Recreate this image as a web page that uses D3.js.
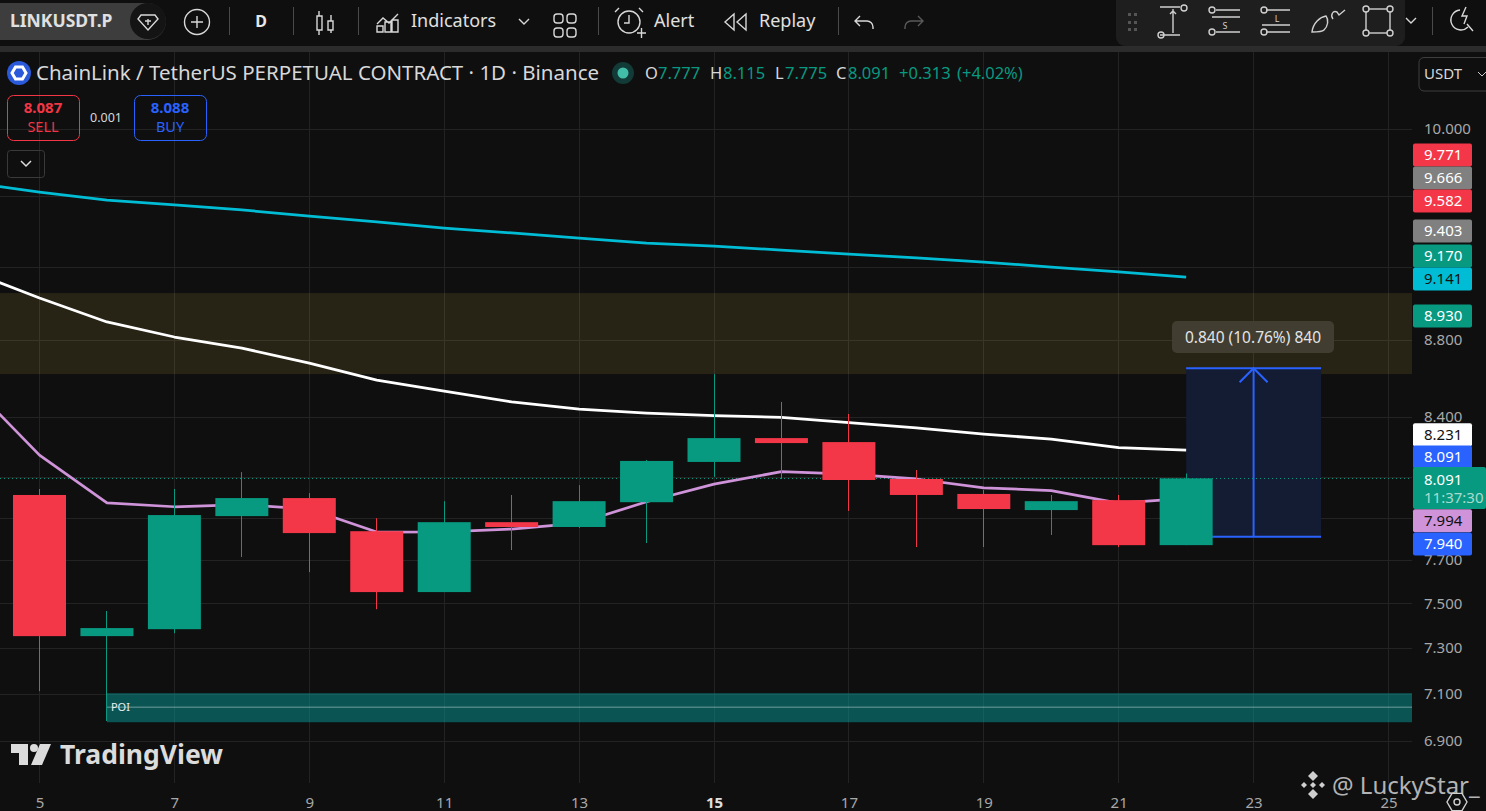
<!DOCTYPE html>
<html>
<head>
<meta charset="utf-8">
<script src="https://cdnjs.cloudflare.com/ajax/libs/d3/7.8.5/d3.min.js"></script>
<style>
html,body{margin:0;padding:0;background:#0f0f0f;overflow:hidden}
text{font-family:"Noto Sans",sans-serif}
</style>
</head>
<body>
<div id="chart"></div>
<script>
// daily candles
var days   = [5,6,7,8,9,10,11,12,13,14,15,16,17,18,19,20,21,22];
var opens  = [8.010,7.353,7.384,7.908,7.995,7.836,7.552,7.879,7.856,7.975,8.172,8.291,8.271,8.088,8.015,7.937,7.985,7.770];
var highs  = [8.039,7.466,8.039,8.122,8.019,7.898,7.980,8.010,8.058,8.182,8.619,8.475,8.413,8.132,8.034,8.010,8.010,8.115];
var lows   = [7.112,6.984,7.366,7.714,7.644,7.474,7.552,7.747,7.851,7.780,8.098,8.088,7.933,7.761,7.761,7.818,7.761,7.770];
var closes = [7.353,7.389,7.913,7.995,7.827,7.552,7.879,7.856,7.980,8.177,8.291,8.266,8.083,8.010,7.942,7.980,7.770,8.091];

// moving averages, first value is day 4
var maDays   = [4,5,6,7,8,9,10,11,12,13,14,15,16,17,18,19,20,21,22];
var maCyan   = [9.678,9.625,9.578,9.550,9.521,9.486,9.452,9.417,9.389,9.360,9.332,9.315,9.292,9.270,9.248,9.225,9.197,9.170,9.141];
var maWhite  = [9.170,9.026,8.896,8.815,8.756,8.677,8.588,8.531,8.475,8.438,8.418,8.405,8.396,8.369,8.342,8.311,8.286,8.243,8.231];
var maPurple = [8.557,8.206,7.972,7.953,7.963,7.942,7.832,7.833,7.846,7.875,7.977,8.063,8.124,8.112,8.088,8.045,8.031,7.971,7.994];

var gridPrices = [10,9.6,9.2,8.8,8.4,8.1,7.9,7.7,7.5,7.3,7.1,6.9];
var priceTicks = [10,8.8,8.4,7.7,7.5,7.3,7.1,6.9];
var dayTicks   = [5,7,9,11,13,15,17,19,21,23,25];

var lastPrice = 8.091;
var yellowZone = [9.053,8.619];
var poiZone = [7.103,6.979];
var poiMid = 7.043;
var poiStart = 6;
var measureDays = [22,24];
var measurePrices = [7.810,8.650];

var priceLabels = ["9.771","9.666","9.582","9.403","9.170","9.141","8.930","8.231","8.091","7.994","7.940"];

var W = 1486, H = 811, plotR = 1412;
var svg = d3.select("#chart").append("svg").attr("width",W).attr("height",H).style("display","block");
svg.append("rect").attr("width",W).attr("height",H).attr("fill","#0f0f0f");

var x = d3.scaleLinear().domain([5,25]).range([39.5,1388.5]);
var y = d3.scaleLog().domain([10,6.9]).range([129,741]);

var defs = svg.append("defs");
defs.append("clipPath").attr("id","plot").append("rect").attr("x",0).attr("y",52).attr("width",plotR).attr("height",731);

// grid
var gGrid = svg.append("g");
gGrid.selectAll(".h").data(gridPrices).enter().append("line")
  .attr("x1",0).attr("x2",plotR).attr("y1",function(d){return Math.round(y(d))+0.5}).attr("y2",function(d){return Math.round(y(d))+0.5})
  .attr("stroke","#232323");
gGrid.selectAll(".v").data(dayTicks).enter().append("line")
  .attr("y1",52).attr("y2",783).attr("x1",function(d){return Math.floor(x(d))+0.5}).attr("x2",function(d){return Math.floor(x(d))+0.5})
  .attr("stroke","#232323");

var plot = svg.append("g").attr("clip-path","url(#plot)");

// zones
plot.append("rect").attr("x",0).attr("width",plotR).attr("y",y(yellowZone[0])).attr("height",y(yellowZone[1])-y(yellowZone[0]))
  .attr("fill","#ffd54a").attr("fill-opacity",0.105);
plot.append("rect").attr("x",x(poiStart)).attr("width",plotR-x(poiStart)).attr("y",y(poiZone[0])).attr("height",y(poiZone[1])-y(poiZone[0]))
  .attr("fill","#089a9a").attr("fill-opacity",0.5);
plot.append("line").attr("x1",x(poiStart)).attr("x2",plotR).attr("y1",y(poiMid)).attr("y2",y(poiMid))
  .attr("stroke","#fff").attr("stroke-opacity",0.42);
plot.append("text").attr("x",x(poiStart)+4).attr("y",y(poiMid)+3.5).attr("fill","#eee").attr("font-size",11).text("POI");

// measure tool
var mx0 = x(measureDays[0]), mx1 = x(measureDays[1]), my0 = y(measurePrices[0]), my1 = y(measurePrices[1]), mc = x(23);
var gm = plot.append("g");
gm.append("rect").attr("x",mx0).attr("width",mx1-mx0).attr("y",my1).attr("height",my0-my1).attr("fill","#141c33");
gm.selectAll("line.e").data([my0,my1]).enter().append("line").attr("x1",mx0).attr("x2",mx1)
  .attr("y1",function(d){return d}).attr("y2",function(d){return d}).attr("stroke","#2962ff").attr("stroke-width",2);
gm.append("line").attr("x1",mc).attr("x2",mc).attr("y1",my0).attr("y2",my1).attr("stroke","#2962ff").attr("stroke-width",2);
gm.append("path").attr("d","M"+(mc-14)+","+(my1+14)+"L"+mc+","+my1+"L"+(mc+14)+","+(my1+14)).attr("fill","none").attr("stroke","#2962ff").attr("stroke-width",2);

// price line
plot.append("line").attr("x1",0).attr("x2",plotR).attr("y1",Math.round(y(lastPrice))+0.5).attr("y2",Math.round(y(lastPrice))+0.5)
  .attr("stroke","#089981").attr("stroke-dasharray","1 3");

// moving averages
var line = d3.line().x(function(d,i){return x(maDays[i])}).y(function(d){return y(d)});
[[maCyan,"#00bcd4"],[maWhite,"#ffffff"],[maPurple,"#ce93d8"]].forEach(function(s){
  plot.append("path").attr("d",line(s[0])).attr("fill","none").attr("stroke",s[1]).attr("stroke-width",2.75).attr("stroke-linejoin","round");
});

// candles
var bodyW = 53;
var col = function(i){return closes[i]>=opens[i] ? "#089981" : "#f23645"};
var gc = plot.append("g");
gc.selectAll(".w").data(days).enter().append("line")
  .attr("x1",function(d){return Math.floor(x(d))+0.5}).attr("x2",function(d){return Math.floor(x(d))+0.5})
  .attr("y1",function(d,i){return y(highs[i])}).attr("y2",function(d,i){return y(lows[i])})
  .attr("stroke",function(d,i){return col(i)});
gc.selectAll(".b").data(days).enter().append("rect")
  .attr("x",function(d){return x(d)-bodyW/2}).attr("width",bodyW)
  .attr("y",function(d,i){return y(Math.max(opens[i],closes[i]))})
  .attr("height",function(d,i){return Math.abs(y(opens[i])-y(closes[i]))})
  .attr("fill",function(d,i){return closes[i]>=opens[i] ? "#089981" : "#f43748"});

// measure label
svg.append("rect").attr("x",1172).attr("y",321).attr("width",162).attr("height",32).attr("rx",5).attr("fill","#413d30");
svg.append("text").attr("x",1253).attr("y",343).attr("text-anchor","middle").attr("fill","#e4e4e4").attr("font-size",15.5).text("0.840 (10.76%) 840");

// price axis
var yAxis = d3.axisRight(y).tickValues(priceTicks).tickSize(0).tickPadding(0).tickFormat(d3.format(".3f"));
var ga = svg.append("g").attr("transform","translate(1424,0)").call(yAxis);
ga.select(".domain").remove();
ga.selectAll("text").attr("font-family","Noto Sans").attr("font-size",15).attr("fill","#a8a8a8").attr("x",0);

// stacked price labels
var labelY = [155,178,201,231,256,279,316,434.7,457,520.7,544];
var labelBg = ["#f43748","#808080","#f43748","#808080","#089981","#00bcd4","#089981","#ffffff","#2962ff","#ce93d8","#2962ff"];
var labelFg = ["#fff","#fff","#fff","#fff","#fff","#111","#fff","#111","#fff","#111","#fff"];
var gl = svg.append("g");
gl.selectAll("rect").data(priceLabels).enter().append("rect")
  .attr("x",1413).attr("width",59).attr("height",23).attr("rx",2)
  .attr("y",function(d,i){return labelY[i]-11.5}).attr("fill",function(d,i){return labelBg[i]});
gl.selectAll("text").data(priceLabels).enter().append("text")
  .attr("x",1424).attr("y",function(d,i){return labelY[i]+5}).attr("font-size",15).attr("fill",function(d,i){return labelFg[i]}).text(function(d){return d});

// last price + countdown
svg.append("rect").attr("x",1413).attr("y",467).attr("width",73).attr("height",42).attr("rx",2).attr("fill","#089981");
svg.append("text").attr("x",1424).attr("y",485).attr("font-size",15).attr("fill","#fff").text(d3.format(".3f")(lastPrice));
svg.append("text").attr("x",1424).attr("y",503).attr("font-size",15).attr("fill","#a9dccf").text("11:37:30");

// time axis
var xAxis = d3.axisBottom(x).tickValues(dayTicks).tickSize(0).tickPadding(0).tickFormat(d3.format("d"));
var gx = svg.append("g").attr("transform","translate(0,790)").call(xAxis);
gx.select(".domain").remove();
gx.selectAll("text").attr("font-family","Noto Sans").attr("font-size",15).attr("dy",0).attr("y",18)
  .attr("fill",function(d){return d===15?"#e0e0e0":"#a8a8a8"}).attr("font-weight",function(d){return d===15?"bold":"normal"});

// legend row
svg.append("circle").attr("cx",19).attr("cy",73).attr("r",12).attr("fill","#2a5ada");
svg.append("path").attr("d",hex(19,73,7)).attr("fill","none").attr("stroke","#fff").attr("stroke-width",3);
svg.append("text").attr("x",36).attr("y",80).attr("fill","#d8d8d8").attr("font-size",20.5).text("ChainLink / TetherUS PERPETUAL CONTRACT · 1D · Binance");
svg.append("circle").attr("cx",623).attr("cy",73).attr("r",11).attr("fill","#123a36");
svg.append("circle").attr("cx",623).attr("cy",73).attr("r",5.5).attr("fill","#42bda8");
var ohlc = svg.append("text").attr("y",79).attr("font-size",16.5);
[["O",645,"#d8d8d8"],["7.777",658,"#089981"],["H",710,"#d8d8d8"],["8.115",723,"#089981"],["L",775,"#d8d8d8"],["7.775",785,"#089981"],
 ["C",836,"#d8d8d8"],["8.091",848,"#089981"],["+0.313",899,"#089981"],["(+4.02%)",957,"#089981"]].forEach(function(t){
  ohlc.append("tspan").attr("x",t[1]).attr("fill",t[2]).text(t[0]);
});

// sell / buy
function tradeBox(bx,color,price,name){
  svg.append("rect").attr("x",bx+0.5).attr("y",95.5).attr("width",72).attr("height",45).attr("rx",6).attr("fill","none").attr("stroke",color);
  svg.append("text").attr("x",bx+36).attr("y",113).attr("text-anchor","middle").attr("fill",color).attr("font-size",15).attr("font-weight","bold").text(price);
  svg.append("text").attr("x",bx+36).attr("y",132).attr("text-anchor","middle").attr("fill",color).attr("font-size",14.5).text(name);
}
tradeBox(7,"#f23645","8.087","SELL");
tradeBox(134,"#2962ff","8.088","BUY");
svg.append("text").attr("x",106).attr("y",122).attr("text-anchor","middle").attr("fill","#d8d8d8").attr("font-size",12.5).text("0.001");
svg.append("rect").attr("x",7.5).attr("y",150.5).attr("width",37).attr("height",27).attr("rx",3).attr("fill","none").attr("stroke","#3a3a3a");
svg.append("path").attr("d","M21,161l5,5l5,-5").attr("fill","none").attr("stroke","#ddd").attr("stroke-width",1.5);

// usdt box
svg.append("path").attr("d","M1486,57.5H1424a5,5 0 0 0 -5,5V86a5,5 0 0 0 5,5H1486").attr("fill","none").attr("stroke","#3f3f3f");
svg.append("text").attr("x",1424).attr("y",79).attr("fill","#d8d8d8").attr("font-size",15).text("USDT");
svg.append("path").attr("d","M1478,72l4,4l4,-4").attr("fill","none").attr("stroke","#ccc");

// toolbar
svg.append("rect").attr("x",0).attr("y",0).attr("width",W).attr("height",46).attr("fill","#0f0f0f");
svg.append("rect").attr("x",0).attr("y",46).attr("width",W).attr("height",6).attr("fill","#2c2c2c");
svg.append("rect").attr("x",-20).attr("y",3).attr("width",186).attr("height",37).attr("rx",18.5).attr("fill","#3d3d3d");
svg.append("circle").attr("cx",148).attr("cy",21).attr("r",18).attr("fill","#141414");
svg.append("text").attr("x",10).attr("y",27).attr("fill","#e0e0e0").attr("font-size",17.5).attr("font-weight","bold").text("LINKUSDT.P");
var ic = svg.append("g").attr("fill","none").attr("stroke","#d8d8d8").attr("stroke-width",1.4);
ic.append("path").attr("d","M141,15h14l3,4l-10,11l-10,-11zM148,19v6M145,21h6");
ic.append("circle").attr("cx",197).attr("cy",22).attr("r",12.5);
ic.append("path").attr("d","M197,16v12M191,22h12");
ic.append("path").attr("d","M319,11v5M319,30v5M317,16h5v14h-5zM331,15v6M331,30v3M328,21h5v9h-5z");
ic.append("path").attr("d","M377,24l6,-6l6,5l9,-9M377,32h6v-6h-6zM385,32h6v-10h-6zM392,32h6v-12h-6z");
ic.append("path").attr("d","M519,19l5,5l5,-5");
[[554,14],[567,14],[554,28],[567,28]].forEach(function(p){ ic.append("rect").attr("x",p[0]).attr("y",p[1]).attr("width",9).attr("height",9).attr("rx",3); });
ic.append("circle").attr("cx",629).attr("cy",22).attr("r",11);
ic.append("path").attr("d","M629,15v8h-5M619,8l-4,4M639,8l4,4M637,33h9M641.5,28v10");
ic.append("path").attr("d","M746,14l-9,8l9,8zM734,14l-9,8l9,8z");
ic.append("path").attr("d","M860,16l-5,5l5,5M855,21h12a6,6 0 0 1 6,6v2");
svg.append("path").attr("d","M918,16l5,5l-5,5M923,21h-12a6,6 0 0 0 -6,6v2").attr("fill","none").attr("stroke","#5a5a5a").attr("stroke-width",1.4);
svg.append("g").selectAll("line").data([229,293,358,598,838]).enter().append("line")
  .attr("x1",function(d){return d+0.5}).attr("x2",function(d){return d+0.5}).attr("y1",7).attr("y2",35).attr("stroke","#4a4a4a");
[["D",261,"#e8e8e8",16,"bold","middle"],["Indicators",411,"#e0e0e0",18,"normal","start"],["Alert",654,"#e0e0e0",18,"normal","start"],["Replay",759,"#e0e0e0",18,"normal","start"]].forEach(function(t){
  svg.append("text").attr("x",t[1]).attr("y",27).attr("fill",t[2]).attr("font-size",t[3]).attr("font-weight",t[4]).attr("text-anchor",t[5]).text(t[0]);
});

// floating drawing panel
svg.append("path").attr("d","M1116,0H1405V37a9,9 0 0 1 -9,9H1125a9,9 0 0 1 -9,-9Z").attr("fill","#1e1e1e");
var pi = svg.append("g").attr("fill","none").attr("stroke","#cfcfcf").attr("stroke-width",1.4);
[[1128,13],[1134,13],[1128,21],[1134,21],[1128,28],[1134,28]].forEach(function(p){ svg.append("rect").attr("x",p[0]).attr("y",p[1]).attr("width",3).attr("height",3).attr("fill","#555"); });
pi.append("path").attr("d","M1160,7h20M1160,35h20M1173,9v24M1170,14l3,-3l3,3");
pi.append("circle").attr("cx",1184).attr("cy",8).attr("r",3);
pi.append("circle").attr("cx",1161).attr("cy",35).attr("r",3);
pi.append("path").attr("d","M1216,10h24M1212,17h28M1216,32h24");
pi.append("circle").attr("cx",1212).attr("cy",10).attr("r",3);
pi.append("circle").attr("cx",1212).attr("cy",32).attr("r",3);
pi.append("path").attr("d","M1266,10h24M1262,25h28M1266,32h24");
pi.append("circle").attr("cx",1264).attr("cy",10).attr("r",3);
pi.append("circle").attr("cx",1264).attr("cy",32).attr("r",3);
svg.append("text").attr("x",1225).attr("y",29).attr("text-anchor","middle").attr("fill","#cfcfcf").attr("font-size",9).text("S");
svg.append("text").attr("x",1277).attr("y",22).attr("text-anchor","middle").attr("fill","#cfcfcf").attr("font-size",9).text("L");
pi.append("path").attr("d","M1312,32c1,-9 8,-15 14,-16c3,4 2,10 -2,14c-2,2 -6,2 -12,2zM1333,19c-3,-4 0,-9 4,-7l2,3l6,-5");
pi.append("rect").attr("x",1366).attr("y",9).attr("width",24).attr("height",24);
[[1366,9],[1390,9],[1366,33],[1390,33]].forEach(function(p){ pi.append("circle").attr("cx",p[0]).attr("cy",p[1]).attr("r",3).attr("fill","#1e1e1e"); });
ic.append("path").attr("d","M1406,18l5,5l5,-5");
svg.append("line").attr("x1",1432.5).attr("x2",1432.5).attr("y1",7).attr("y2",35).attr("stroke","#4a4a4a");
ic.append("path").attr("d","M1460,10a10,10 0 1 0 8,17M1467,24l6,7M1466,7l-4,9h5l-3,8");

// tradingview watermark
var wm = svg.append("g").attr("fill","#dcdcdc");
wm.append("path").attr("d","M11,744H28V765H19V753H11Z");
wm.append("circle").attr("cx",34).attr("cy",748).attr("r",4);
wm.append("path").attr("d","M40,744H51L42,765H31Z");
svg.append("text").attr("x",60).attr("y",764).attr("fill","#dcdcdc").attr("font-size",26.5).attr("font-weight","bold").attr("font-family","Lato").text("TradingView");

// author watermark
var bn = svg.append("g").attr("fill","#cfcfcf").attr("transform","translate(1313,785)");
[[0,-9,5],[0,9,5],[-9,0,3],[9,0,3],[0,0,3]].forEach(function(p){
  bn.append("path").attr("d","M"+p[0]+","+(p[1]-p[2])+"l"+p[2]+","+p[2]+"l-"+p[2]+","+p[2]+"l-"+p[2]+",-"+p[2]+"z");
});
svg.append("text").attr("x",1332).attr("y",794).attr("fill","#b4b4b4").attr("font-size",24).text("@ LuckyStar_");
svg.append("path").attr("d",hex(1457,802,10)).attr("fill","none").attr("stroke","#cfcfcf").attr("stroke-width",1.4);
svg.append("circle").attr("cx",1457).attr("cy",802).attr("r",3).attr("fill","none").attr("stroke","#cfcfcf").attr("stroke-width",1.4);

function hex(cx,cy,r){
  var pts = d3.range(6).map(function(i){var a=Math.PI/3*i;return [cx+r*Math.cos(a),cy+r*Math.sin(a)]});
  return "M"+pts.join("L")+"Z";
}
</script>
</body>
</html>
